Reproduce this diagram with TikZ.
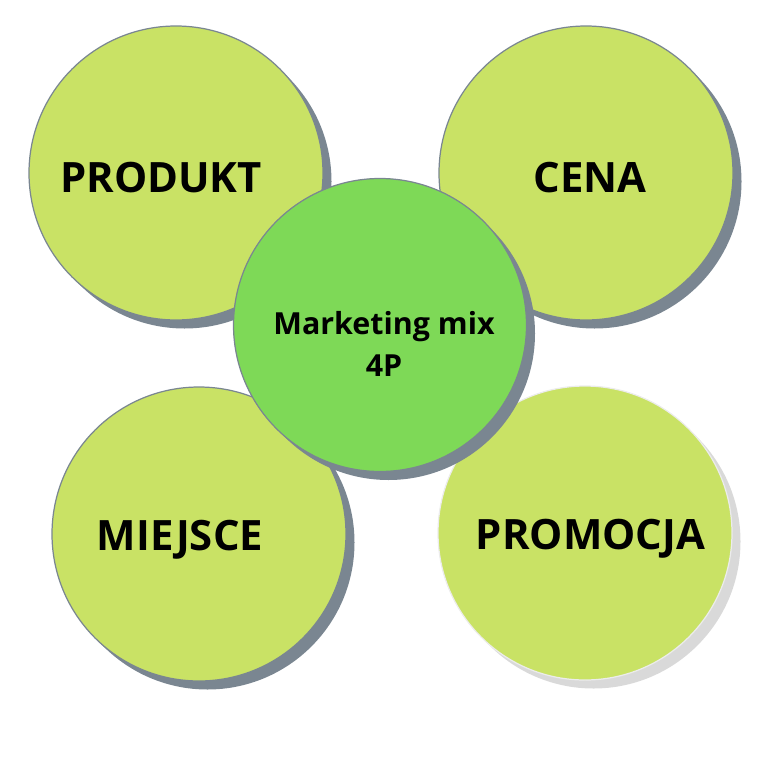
\documentclass[tikz,border=0pt]{standalone}
\usepackage{fontspec}
\setmainfont{Open Sans}
\usepackage{tikz}
\usetikzlibrary{shadows}

\definecolor{petal}{RGB}{201,226,101}
\definecolor{hub}{RGB}{126,217,87}
\definecolor{rim}{RGB}{122,134,145}
\definecolor{paleshade}{RGB}{217,217,217}

\begin{document}
\begin{tikzpicture}[
				darkshade/.style={drop shadow={shadow xshift=0.17cm, shadow yshift=-0.17cm, fill=rim, opacity=1}},
				lightshade/.style={drop shadow={shadow xshift=0.17cm, shadow yshift=-0.17cm, fill=paleshade, opacity=1}},
				petalnode/.style={circle, draw=rim, fill=petal, line width=0.7pt, minimum size=5.88cm, inner sep=0pt},
				hubnode/.style={circle, draw=rim, fill=hub, line width=0.7pt, minimum size=5.86cm, inner sep=0pt, darkshade},
				petaltext/.style={font=\bfseries\fontsize{23.8}{28}\selectfont},
				hubtext/.style={font=\bfseries\fontsize{17.3}{23.8}\selectfont, align=center},
				]
				\useasboundingbox (0,0) rectangle (15.36,-15.36);
				
				%Petals
				\node[petalnode, darkshade, label={[petaltext, xshift=-0.3cm, yshift=-0.1cm]center:PRODUKT}](produkt) at (3.52,-3.46){};
				\node[petalnode, darkshade, label={[petaltext, xshift=0.08cm, yshift=-0.1cm]center:CENA}](cena) at (11.72,-3.46){};
				\node[petalnode, darkshade, label={[petaltext, xshift=-0.38cm, yshift=-0.12cm]center:MIEJSCE}](miejsce) at (3.98,-10.68){};
				\node[petalnode, lightshade, draw=paleshade!50, label={[petaltext, xshift=0.11cm, yshift=-0.12cm]center:PROMOCJA}](promocja) at (11.70,-10.66){};
				
				%Hub
				\node[hubnode, label={[hubtext, xshift=0.08cm, yshift=-0.38cm]center:Marketing mix\\4P}](mix) at (7.60,-6.50){};
				
			\end{tikzpicture}
\end{document}
